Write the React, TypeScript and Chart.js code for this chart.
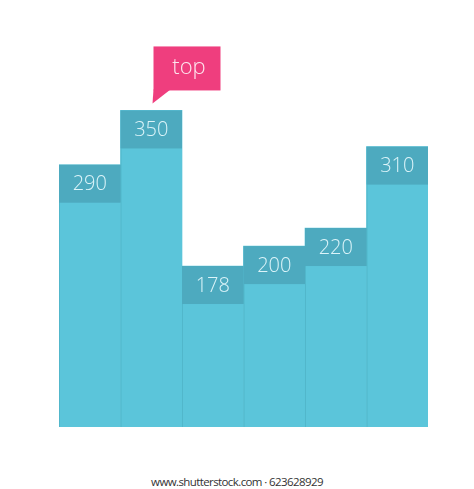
import React, { useEffect, useRef } from 'react';
import { Chart, registerables } from 'chart.js';

// chart data
const categories = ['A', 'B', 'C', 'D', 'E', 'F'];
const values = [290, 350, 178, 200, 220, 310];
const highlightLabel = 'top';

const BAR_COLOR = '#5bc5da';
const BAND_COLOR = '#4daabf';
const LABEL_COLOR = '#dcf4f9';
const PINK = '#ef3e7e';

// darker band on top of every bar, with its value, plus the pink "top" bubble
const bandPlugin = {
  id: 'bandLabels',
  afterDatasetsDraw(chart: any) {
    const ctx = chart.ctx;
    const meta = chart.getDatasetMeta(0);
    const data = chart.data.datasets[0].data as number[];
    const maxIdx = data.indexOf(Math.max(...data));
    const bandH = 38;

    ctx.save();
    meta.data.forEach((bar: any, i: number) => {
      const left = bar.x - bar.width / 2;
      ctx.fillStyle = BAND_COLOR;
      ctx.fillRect(left, bar.y, bar.width, bandH);

      // faint seam between strips
      ctx.fillStyle = 'rgba(40,120,140,0.18)';
      ctx.fillRect(left, bar.y + bandH, 1, bar.base - bar.y - bandH);

      ctx.fillStyle = LABEL_COLOR;
      ctx.font = '300 20px "Open Sans", sans-serif';
      ctx.textAlign = 'center';
      ctx.textBaseline = 'middle';
      ctx.fillText(String(data[i]), bar.x, bar.y + bandH / 2 + 1);

      if (i === maxIdx) {
        const bx = left + 33;
        const bw = 67;
        const bh = 44;
        const bottom = bar.y - 20;
        ctx.fillStyle = PINK;
        ctx.fillRect(bx, bottom - bh, bw, bh);
        ctx.beginPath();
        ctx.moveTo(bx, bottom - 1);
        ctx.lineTo(bx - 1, bottom + 13);
        ctx.lineTo(bx + 17, bottom - 1);
        ctx.closePath();
        ctx.fill();
        ctx.fillStyle = '#fde6ee';
        ctx.font = '300 22px "Open Sans", sans-serif';
        ctx.fillText(highlightLabel, bx + bw / 2 + 2, bottom - bh / 2 - 1);
      }
    });
    ctx.restore();
  },
};

const App = () => {
  const canvasRef = useRef<HTMLCanvasElement>(null);

  useEffect(() => {
    Chart.register(...registerables);
    const ctx: any = canvasRef.current && canvasRef.current.getContext('2d');
    const config: any = {
      type: 'bar',
      data: {
        labels: categories,
        datasets: [
          {
            data: values,
            backgroundColor: BAR_COLOR,
            borderWidth: 0,
            categoryPercentage: 1,
            barPercentage: 1,
          },
        ],
      },
      options: {
        responsive: false,
        animation: false,
        layout: { padding: { left: 59, right: 46, top: 20, bottom: 13 } },
        scales: {
          x: { display: false },
          y: { display: false, min: 0, max: 450 },
        },
        plugins: {
          legend: { display: false },
          tooltip: { enabled: false },
        },
      },
      plugins: [bandPlugin],
    };
    const chart = new Chart(ctx, config);

    return () => {
      chart.destroy();
    };
  }, []);

  return (
    <div style={{ position: 'absolute', left: 0, top: 0, width: 474, height: 489, background: '#fff' }}>
      <canvas ref={canvasRef} width={474} height={440} style={{ display: 'block', width: 474, height: 440 }}></canvas>
      <div
        style={{
          position: 'absolute',
          left: 0,
          top: 474,
          width: 474,
          textAlign: 'center',
          fontFamily: '"Open Sans", sans-serif',
          fontSize: 11.5,
          letterSpacing: '-0.6px',
          color: '#333',
          lineHeight: '16px',
        }}
      >
        www.shutterstock.com · 623628929
      </div>
    </div>
  );
};

export default App;
